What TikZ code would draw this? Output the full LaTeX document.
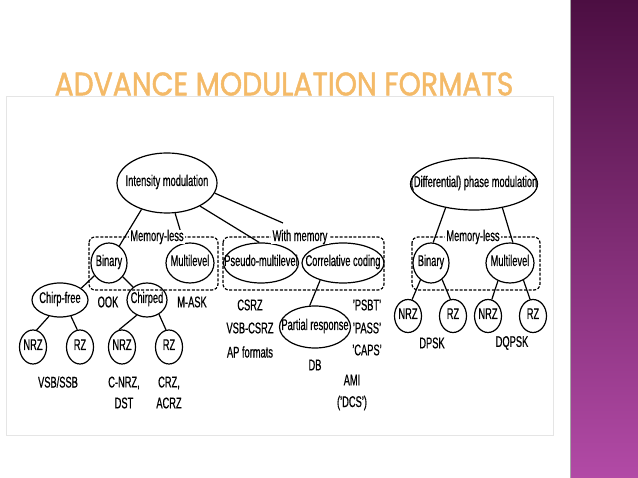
\documentclass[tikz,border=0pt]{standalone}
\usepackage{fontspec}
\setmainfont{Liberation Sans}[FakeStretch=0.6,FakeBold=0.6]
\newfontfamily\titlefont{Poppins}[FakeStretch=0.87,FakeBold=1.4]
\usetikzlibrary{shapes.geometric}
\definecolor{ttl}{RGB}{244,186,104}
\definecolor{ptop}{RGB}{76,14,66}
\definecolor{pbot}{RGB}{178,74,166}
\newcommand{\zw}[1]{\makebox[0pt]{#1}}
\begin{document}
\begin{tikzpicture}[x=1pt,y=-1pt,
  txt/.style={font=\fontsize{15.5}{16}\selectfont},
  ell/.style={ellipse,draw,line width=1.2pt,inner sep=0pt,text height=8pt,text depth=2pt,txt},
  lbl/.style={inner sep=0pt,txt},
  grp/.style={draw,dash pattern=on 3pt off 1.6pt,line width=1.2pt,rounded corners=6pt},
  edge/.style={line width=1.2pt},
  glbl/.style={fill=white,inner xsep=1.5pt,inner ysep=0pt,txt}
]
\useasboundingbox (0,0) rectangle (638,478);
\fill[white] (0,0) rectangle (638,478);
% purple side bar
\shade[top color=ptop,bottom color=pbot] (570,0) rectangle (638,478);
\draw[black!35,line width=0.8pt] (570,0) -- (570,478);
% faint frame
\draw[black!10,line width=0.8pt] (6,96) rectangle (553,435);
% title
\node[text=ttl,font=\titlefont\fontsize{32.5}{34}\selectfont,inner sep=0pt] (title) at (284,84) {ADVANCE MODULATION FORMATS};

% left tree
\node[ell,minimum width=100pt,minimum height=60pt] (im) at (167,183) {\zw{Intensity modulation}};
\draw[grp] (89,237) rectangle (218,290);
\draw[grp] (223,237) rectangle (384,290);
\node[ell,minimum width=36pt,minimum height=40pt] (bin1) at (109,263) {\zw{Binary}};
\node[ell,minimum width=48pt,minimum height=40pt] (ml1) at (190,263) {\zw{Multilevel}};
\node[ell,minimum width=75pt,minimum height=40pt] (pm) at (261,263) {\zw{Pseudo-multilevel}};
\node[ell,minimum width=82pt,minimum height=40pt] (cc) at (343,263) {\zw{Correlative coding}};
\node[ell,minimum width=56pt,minimum height=34pt] (cf) at (60,300) {\zw{Chirp-free}};
\node[ell,minimum width=40pt,minimum height=34pt] (ch) at (147,300) {\zw{Chirped}};
\node[ell,minimum width=27pt,minimum height=34pt] (nrz1) at (33,347) {\zw{NRZ}};
\node[ell,minimum width=27pt,minimum height=34pt] (rz1) at (80,347) {\zw{RZ}};
\node[ell,minimum width=27pt,minimum height=34pt] (nrz2) at (122,347) {\zw{NRZ}};
\node[ell,minimum width=27pt,minimum height=34pt] (rz2) at (169,347) {\zw{RZ}};
\node[ell,minimum width=71pt,minimum height=42pt] (pr) at (315,327) {\zw{Partial response}};
\coordinate (wmend) at (283,223);

\draw[edge] (im.226) -- (bin1);
\draw[edge] (im.-75) -- (ml1);
\draw[edge] (im.-35) -- (pm.95);
\draw[edge] (im.-12) -- (wmend);
\draw[edge] (cc.217) -- (pr.104);
\draw[edge] (bin1.221) -- (cf.29);
\draw[edge] (bin1.-45) -- (ch.137);
\draw[edge] (cf.236) -- (nrz1.78);
\draw[edge] (cf.304) -- (rz1.99);
\draw[edge] (ch.236) -- (nrz2.100);
\draw[edge] (ch.310) -- (rz2.100);

\node[glbl] (mlA) at (157,237) {Memory-less};
\node[glbl] (wm) at (300,237) {With memory};

\node[lbl] (ook) at (108,302) {OOK};
\node[lbl] (mask) at (192,302) {M-ASK};
\node[lbl] (csrz) at (250,305) {CSRZ};
\node[lbl] (vsbc) at (250,328) {VSB-CSRZ};
\node[lbl] (apf) at (250,352) {AP formats};
\node[lbl] (psbt) at (367,305) {'PSBT'};
\node[lbl] (pass) at (367,328) {'PASS'};
\node[lbl] (caps) at (367,350) {'CAPS'};
\node[lbl] (db) at (315,365) {DB};
\node[lbl] (ami) at (352,380) {AMI};
\node[lbl] (dcs) at (352,403) {('DCS')};
\node[lbl] (vsb) at (58,382) {VSB/SSB};
\node[lbl] (cnrz) at (124,383) {C-NRZ,};
\node[lbl] (dst) at (124,403) {DST};
\node[lbl] (crz) at (169,383) {CRZ,};
\node[lbl] (acrz) at (169,403) {ACRZ};

% right tree
\node[ell,minimum width=127pt,minimum height=52pt] (dpm) at (474,184) {\zw{(Differential) phase modulation}};
\draw[grp] (412,237) rectangle (540,290);
\node[ell,minimum width=36pt,minimum height=40pt] (bin2) at (431,263) {\zw{Binary}};
\node[ell,minimum width=48pt,minimum height=40pt] (ml2) at (510,263) {\zw{Multilevel}};
\node[ell,minimum width=27pt,minimum height=33pt] (nrz3) at (408,316) {\zw{NRZ}};
\node[ell,minimum width=27pt,minimum height=33pt] (rz3) at (453,316) {\zw{RZ}};
\node[ell,minimum width=27pt,minimum height=33pt] (nrz4) at (488,316) {\zw{NRZ}};
\node[ell,minimum width=27pt,minimum height=33pt] (rz4) at (533,316) {\zw{RZ}};
\draw[edge] (dpm.220) -- (bin2.84);
\draw[edge] (dpm.320) -- (ml2.82);
\draw[edge] (bin2.238) -- (nrz3.76);
\draw[edge] (bin2.304) -- (rz3.99);
\draw[edge] (ml2.236) -- (nrz4.77);
\draw[edge] (ml2.308) -- (rz4.100);
\node[glbl] (mlB) at (473,237) {Memory-less};
\node[lbl] (dpsk) at (432,343) {DPSK};
\node[lbl] (dqpsk) at (512,343) {DQPSK};
\end{tikzpicture}
\end{document}
